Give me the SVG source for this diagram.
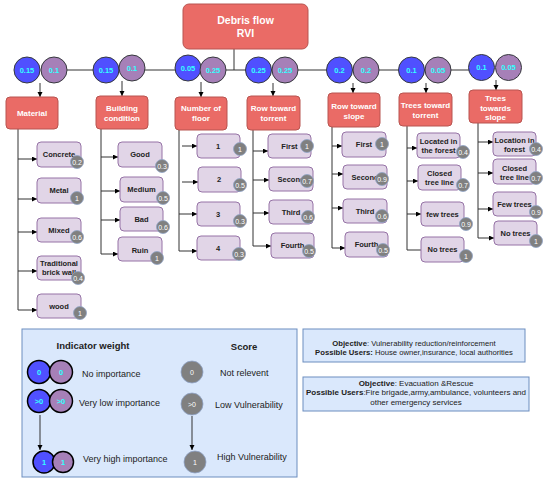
<svg xmlns="http://www.w3.org/2000/svg" width="550" height="483" viewBox="0 0 550 483">
<defs>
<marker id="ah" markerWidth="6" markerHeight="6" refX="5" refY="2.5" orient="auto" markerUnits="userSpaceOnUse"><path d="M0,0 L5,2.5 L0,5 z" fill="#000"/></marker>
<style>
text{font-family:"Liberation Sans",Arial,sans-serif}
.cat{fill:#ea6b66;stroke:#b85450;stroke-width:1}
.catt{font-size:8px;font-weight:bold;fill:#fff;text-anchor:middle}
.ch{fill:#e1d5e7;stroke:#9673a6;stroke-width:1}
.cht{font-size:7.5px;font-weight:bold;fill:#222;text-anchor:middle}
.bd{fill:#808080;stroke:#8fa3c7;stroke-width:.8}
.bdt{font-size:7px;fill:#fff;text-anchor:middle}
.wb{fill:#5050ff;stroke:#36393d;stroke-width:1}
.wp{fill:#a680b8;stroke:#36393d;stroke-width:1}
.wt{font-size:7.5px;font-weight:bold;fill:#33ffff;text-anchor:middle}
.ln{stroke:#333;stroke-width:1;fill:none}
.ar{stroke:#333;stroke-width:1;fill:none;marker-end:url(#ah)}
.info{fill:#dae8fc;stroke:#6c8ebf;stroke-width:1}
.it{font-size:7.7px;fill:#222;text-anchor:middle}
.it2{font-size:8px;fill:#222;text-anchor:middle}
.lt{font-size:9px;fill:#222}
.lb{stroke:#000;stroke-width:1.5}
</style>
</defs>
<rect width="550" height="483" fill="#fff"/>

<g id="connectors">
<path class="ln" d="M67,70 H469"/>
<path class="ln" d="M234,49 V70"/>
<path class="ar" d="M40,83 V97"/>
<path class="ar" d="M122,81 V96"/>
<path class="ar" d="M201,82 V97"/>
<path class="ar" d="M273,83 V96"/>
<path class="ar" d="M353,83 V93"/>
<path class="ar" d="M426,83 V93"/>
<path class="ar" d="M496,80 V90"/>
<path class="ln" d="M18,129 V310"/>
<path class="ar" d="M18,159 H37"/>
<path class="ar" d="M18,199 H37"/>
<path class="ar" d="M18,232 H37"/>
<path class="ar" d="M18,271 H37"/>
<path class="ar" d="M18,310 H37"/>
<path class="ln" d="M101,129 V254"/>
<path class="ar" d="M101,157 H118"/>
<path class="ar" d="M101,191 H120"/>
<path class="ar" d="M101,220 H120"/>
<path class="ar" d="M101,254 H118"/>
<path class="ln" d="M179,130 V251"/>
<path class="ar" d="M182,146 H197"/>
<path class="ar" d="M182,182 H198"/>
<path class="ar" d="M179,214 H197"/>
<path class="ar" d="M179,251 H197"/>
<path class="ln" d="M253,130 V246"/>
<path class="ar" d="M253,151 H268"/>
<path class="ar" d="M253,180 H269"/>
<path class="ar" d="M253,213 H269"/>
<path class="ar" d="M253,246 H271"/>
<path class="ln" d="M332,127 V248"/>
<path class="ar" d="M332,146 H342"/>
<path class="ar" d="M332,174 H343"/>
<path class="ar" d="M332,208 H343"/>
<path class="ar" d="M332,248 H345"/>
<path class="ln" d="M407,126 V250"/>
<path class="ar" d="M407,148 H417"/>
<path class="ar" d="M407,181 H418"/>
<path class="ar" d="M407,214 H421"/>
<path class="ln" d="M407,250 H421"/>
<path class="ln" d="M478,123 V238"/>
<path class="ar" d="M478,142 H493"/>
<path class="ar" d="M478,173 H493"/>
<path class="ar" d="M478,209 H493"/>
<path class="ar" d="M478,238 H494"/>
</g>

<g id="title">
<rect class="cat" x="183" y="4" width="125" height="45" rx="6"/>
<text x="245.5" y="24" style="font-size:10.5px;font-weight:bold;fill:#fff;text-anchor:middle">Debris flow</text>
<text x="245.5" y="37" style="font-size:10.5px;font-weight:bold;fill:#fff;text-anchor:middle">RVI</text>
</g>

<g id="weights">
<circle class="wb" cx="27" cy="70" r="13"/><text class="wt" x="27" y="72.7">0.15</text>
<circle class="wp" cx="54" cy="70" r="13"/><text class="wt" x="54" y="72.7">0.1</text>
<circle class="wb" cx="106" cy="70" r="13"/><text class="wt" x="106" y="72.7">0.15</text>
<circle class="wp" cx="132" cy="68" r="13"/><text class="wt" x="132" y="70.7">0.1</text>
<circle class="wb" cx="188" cy="68" r="13"/><text class="wt" x="188" y="70.7">0.05</text>
<circle class="wp" cx="213" cy="70" r="13"/><text class="wt" x="213" y="72.7">0.25</text>
<circle class="wb" cx="258.5" cy="70" r="13"/><text class="wt" x="258.5" y="72.7">0.25</text>
<circle class="wp" cx="285" cy="70" r="13"/><text class="wt" x="285" y="72.7">0.25</text>
<circle class="wb" cx="339.5" cy="70" r="13"/><text class="wt" x="339.5" y="72.7">0.2</text>
<circle class="wp" cx="366" cy="70" r="13"/><text class="wt" x="366" y="72.7">0.2</text>
<circle class="wb" cx="411.5" cy="70" r="13"/><text class="wt" x="411.5" y="72.7">0.1</text>
<circle class="wp" cx="438" cy="70" r="13"/><text class="wt" x="438" y="72.7">0.05</text>
<circle class="wb" cx="481.5" cy="67.5" r="13"/><text class="wt" x="481.5" y="70.2">0.1</text>
<circle class="wp" cx="508.5" cy="67.5" r="13"/><text class="wt" x="508.5" y="70.2">0.05</text>
</g>

<g id="cat-material"><rect class="cat" x="6" y="97" width="52" height="32" rx="4"/><text class="catt" x="32" y="116">Material</text></g>
<g id="cat-building"><rect class="cat" x="96" y="96" width="52" height="33" rx="4"/><text class="catt" x="122" y="111">Building</text><text class="catt" x="122" y="121">condition</text></g>
<g id="cat-floor"><rect class="cat" x="175" y="97" width="52" height="33" rx="4"/><text class="catt" x="201" y="111">Number of</text><text class="catt" x="201" y="121">floor</text></g>
<g id="cat-rowtorrent"><rect class="cat" x="247" y="96" width="53" height="34" rx="4"/><text class="catt" x="273.5" y="111">Row toward</text><text class="catt" x="273.5" y="121">torrent</text></g>
<g id="cat-rowslope"><rect class="cat" x="328" y="93" width="52" height="34" rx="4"/><text class="catt" x="354" y="109">Row toward</text><text class="catt" x="354" y="119">slope</text></g>
<g id="cat-treestorrent"><rect class="cat" x="399" y="93" width="53" height="33" rx="4"/><text class="catt" x="425.5" y="108">Trees toward</text><text class="catt" x="425.5" y="118">torrent</text></g>
<g id="cat-treesslope"><rect class="cat" x="469" y="90" width="53" height="33" rx="4"/><text class="catt" x="495.5" y="101">Trees</text><text class="catt" x="495.5" y="110.5">towards</text><text class="catt" x="495.5" y="120">slope</text></g>

<g id="n-concrete"><rect class="ch" x="37" y="142" width="44" height="25" rx="4"/><text class="cht" x="59" y="157">Concrete</text><circle class="bd" cx="77" cy="162" r="6.5"/><text class="bdt" x="77" y="164.5">0.2</text></g>
<g id="n-metal"><rect class="ch" x="37" y="178" width="44" height="25" rx="4"/><text class="cht" x="59" y="193">Metal</text><circle class="bd" cx="77" cy="198" r="6.5"/><text class="bdt" x="77" y="200.5">1</text></g>
<g id="n-mixed"><rect class="ch" x="37" y="218" width="44" height="24" rx="4"/><text class="cht" x="59" y="232.5">Mixed</text><circle class="bd" cx="77" cy="237" r="6.5"/><text class="bdt" x="77" y="239.5">0.6</text></g>
<g id="n-trad"><rect class="ch" x="37" y="256" width="44" height="24" rx="4"/><text class="cht" x="59" y="266">Traditional</text><text class="cht" x="59" y="275">brick wall</text><circle class="bd" cx="78" cy="278" r="6.5"/><text class="bdt" x="78" y="280.5">0.4</text></g>
<g id="n-wood"><rect class="ch" x="37" y="294" width="44" height="24" rx="4"/><text class="cht" x="59" y="308.5">wood</text><circle class="bd" cx="80" cy="313" r="6.5"/><text class="bdt" x="80" y="315.5">1</text></g>

<g id="n-good"><rect class="ch" x="118" y="142" width="44" height="25" rx="4"/><text class="cht" x="140" y="157">Good</text><circle class="bd" cx="162" cy="166" r="6.5"/><text class="bdt" x="162" y="168.5">0.3</text></g>
<g id="n-medium"><rect class="ch" x="120" y="177" width="43" height="25" rx="4"/><text class="cht" x="141.5" y="192">Medium</text><circle class="bd" cx="163" cy="198" r="6.5"/><text class="bdt" x="163" y="200.5">0.5</text></g>
<g id="n-bad"><rect class="ch" x="120" y="207" width="43" height="24" rx="4"/><text class="cht" x="141.5" y="222">Bad</text><circle class="bd" cx="163" cy="227" r="6.5"/><text class="bdt" x="163" y="229.5">0.6</text></g>
<g id="n-ruin"><rect class="ch" x="118" y="237" width="44" height="24" rx="4"/><text class="cht" x="140" y="252.5">Ruin</text><circle class="bd" cx="157" cy="258" r="6.5"/><text class="bdt" x="157" y="260.5">1</text></g>

<g id="n-f1"><rect class="ch" x="197" y="134" width="43" height="24" rx="4"/><text class="cht" x="218" y="149">1</text><circle class="bd" cx="240" cy="149" r="6.5"/><text class="bdt" x="240" y="151.5">1</text></g>
<g id="n-f2"><rect class="ch" x="198" y="167" width="43" height="25" rx="4"/><text class="cht" x="219" y="182">2</text><circle class="bd" cx="240" cy="185" r="6.5"/><text class="bdt" x="240" y="187.5">0.5</text></g>
<g id="n-f3"><rect class="ch" x="197" y="202" width="43" height="24" rx="4"/><text class="cht" x="218" y="217">3</text><circle class="bd" cx="240" cy="221" r="6.5"/><text class="bdt" x="240" y="223.5">0.3</text></g>
<g id="n-f4"><rect class="ch" x="197" y="236" width="43" height="24" rx="4"/><text class="cht" x="218" y="251">4</text><circle class="bd" cx="239" cy="254" r="6.5"/><text class="bdt" x="239" y="256.5">0.3</text></g>

<g id="n-rt1"><rect class="ch" x="268" y="134" width="43" height="24" rx="4"/><text class="cht" x="289.5" y="149">First</text><circle class="bd" cx="307" cy="146" r="6.5"/><text class="bdt" x="307" y="148.5">1</text></g>
<g id="n-rt2"><rect class="ch" x="269" y="167" width="44" height="24" rx="4"/><text class="cht" x="291" y="182">Second</text><circle class="bd" cx="307" cy="181" r="6.5"/><text class="bdt" x="307" y="183.5">0.7</text></g>
<g id="n-rt3"><rect class="ch" x="269" y="200" width="44" height="24" rx="4"/><text class="cht" x="291" y="215">Third</text><circle class="bd" cx="308" cy="217" r="6.5"/><text class="bdt" x="308" y="219.5">0.6</text></g>
<g id="n-rt4"><rect class="ch" x="271" y="233" width="43" height="25" rx="4"/><text class="cht" x="292.5" y="248">Fourth</text><circle class="bd" cx="309" cy="251" r="6.5"/><text class="bdt" x="309" y="253.5">0.5</text></g>

<g id="n-rs1"><rect class="ch" x="342" y="132" width="44" height="25" rx="4"/><text class="cht" x="364" y="147">First</text><circle class="bd" cx="382" cy="144" r="6.5"/><text class="bdt" x="382" y="146.5">1</text></g>
<g id="n-rs2"><rect class="ch" x="343" y="165" width="44" height="24" rx="4"/><text class="cht" x="365" y="180">Second</text><circle class="bd" cx="382" cy="179" r="6.5"/><text class="bdt" x="382" y="181.5">0.9</text></g>
<g id="n-rs3"><rect class="ch" x="343" y="199" width="44" height="24" rx="4"/><text class="cht" x="365" y="214">Third</text><circle class="bd" cx="382" cy="216" r="6.5"/><text class="bdt" x="382" y="218.5">0.6</text></g>
<g id="n-rs4"><rect class="ch" x="345" y="232" width="43" height="25" rx="4"/><text class="cht" x="366.5" y="247">Fourth</text><circle class="bd" cx="383" cy="250" r="6.5"/><text class="bdt" x="383" y="252.5">0.5</text></g>

<g id="n-tt1"><rect class="ch" x="417" y="133" width="43" height="25" rx="4"/><text class="cht" x="438.5" y="144">Located in</text><text class="cht" x="438.5" y="152.5">the forest</text><circle class="bd" cx="463" cy="152" r="6.5"/><text class="bdt" x="463" y="154.5">0.4</text></g>
<g id="n-tt2"><rect class="ch" x="418" y="165" width="43" height="25" rx="4"/><text class="cht" x="439.5" y="176">Closed</text><text class="cht" x="439.5" y="185">tree line</text><circle class="bd" cx="463" cy="185" r="6.5"/><text class="bdt" x="463" y="187.5">0.7</text></g>
<g id="n-tt3"><rect class="ch" x="421" y="202" width="43" height="24" rx="4"/><text class="cht" x="442.5" y="217">few trees</text><circle class="bd" cx="466" cy="224" r="6.5"/><text class="bdt" x="466" y="226.5">0.9</text></g>
<g id="n-tt4"><rect class="ch" x="421" y="237" width="43" height="25" rx="4"/><text class="cht" x="442.5" y="252">No trees</text><circle class="bd" cx="466" cy="256" r="6.5"/><text class="bdt" x="466" y="258.5">1</text></g>

<g id="n-ts1"><rect class="ch" x="493" y="132" width="43" height="24" rx="4"/><text class="cht" x="514.5" y="143">Location in</text><text class="cht" x="514.5" y="151.5">forest</text><circle class="bd" cx="536" cy="149" r="6.5"/><text class="bdt" x="536" y="151.5">0.4</text></g>
<g id="n-ts2"><rect class="ch" x="493" y="159" width="43" height="25" rx="4"/><text class="cht" x="514.5" y="171">Closed</text><text class="cht" x="514.5" y="179.5">tree line</text><circle class="bd" cx="536" cy="178" r="6.5"/><text class="bdt" x="536" y="180.5">0.7</text></g>
<g id="n-ts3"><rect class="ch" x="493" y="192" width="43" height="24" rx="4"/><text class="cht" x="514.5" y="207">Few trees</text><circle class="bd" cx="536" cy="212" r="6.5"/><text class="bdt" x="536" y="214.5">0.9</text></g>
<g id="n-ts4"><rect class="ch" x="494" y="221" width="43" height="24" rx="4"/><text class="cht" x="515.5" y="236">No trees</text><circle class="bd" cx="536" cy="241" r="6.5"/><text class="bdt" x="536" y="243.5">1</text></g>

<g id="legend">
<rect class="info" x="22" y="329" width="275" height="148"/>
<text class="lt" x="93" y="349" style="font-weight:bold;text-anchor:middle;font-size:9.5px">Indicator weight</text>
<text class="lt" x="244" y="350" style="font-weight:bold;text-anchor:middle;font-size:9.5px">Score</text>
<circle class="wb lb" cx="39" cy="372" r="11.5"/><text class="wt" x="39" y="374.7">0</text>
<circle class="wp lb" cx="61" cy="372" r="11.5"/><text class="wt" x="61" y="374.7">0</text>
<text class="lt" x="82" y="377">No importance</text>
<circle class="wb lb" cx="39" cy="401" r="11.5"/><text class="wt" x="39" y="403.7">&gt;0</text>
<circle class="wp lb" cx="61" cy="401" r="11.5"/><text class="wt" x="61" y="403.7">&gt;0</text>
<text class="lt" x="79" y="406">Very low importance</text>
<path class="ar" d="M40,415 V450"/>
<circle class="wb lb" cx="44" cy="462" r="11"/><text class="wt" x="44" y="464.7">1</text>
<circle class="wp lb" cx="63" cy="462" r="10.5"/><text class="wt" x="63" y="464.7">1</text>
<text class="lt" x="83" y="462">Very high importance</text>
<circle class="bd" cx="192" cy="372" r="11"/><text class="bdt" x="192" y="374.5">0</text>
<text class="lt" x="220" y="376">Not relevent</text>
<circle class="bd" cx="192" cy="404" r="11"/><text class="bdt" x="192" y="406.5">&gt;0</text>
<text class="lt" x="215" y="408">Low Vulnerability</text>
<path class="ar" d="M192,416 V450"/>
<circle class="bd" cx="195" cy="462" r="11"/><text class="bdt" x="195" y="464.5">1</text>
<text class="lt" x="217" y="460">High Vulnerability</text>
</g>

<g id="objective1">
<rect class="info" x="303" y="329" width="222" height="33"/>
<text class="it" x="414" y="345.5"><tspan font-weight="bold">Objective</tspan>: Vulnerability reduction/reinforcement</text>
<text class="it" x="414" y="354.5"><tspan font-weight="bold">Possible Users:</tspan> House owner,insurance, local authorities</text>
</g>
<g id="objective2">
<rect class="info" x="303" y="377" width="226" height="34"/>
<text class="it2" x="416" y="385.5"><tspan font-weight="bold">Objective</tspan>: Evacuation &amp;Rescue</text>
<text class="it2" x="416" y="394.5"><tspan font-weight="bold">Possible Users</tspan>:Fire brigade,army,ambulance, volunteers and</text>
<text class="it2" x="416" y="404.5">other emergency services</text>
</g>
</svg>
